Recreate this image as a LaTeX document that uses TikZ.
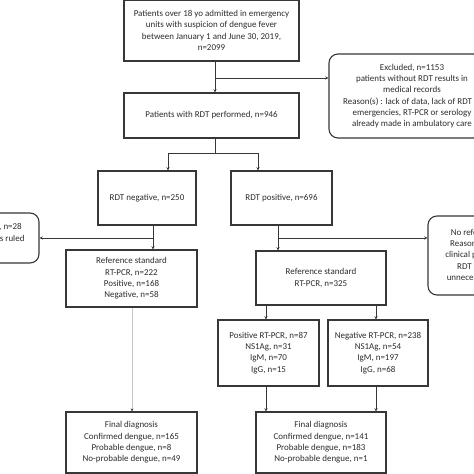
\documentclass[tikz,border=0pt]{standalone}
\usepackage{fontspec}
\setmainfont{Carlito}
\usetikzlibrary{arrows.meta}
\definecolor{ink}{RGB}{55,55,55}
\definecolor{txt}{RGB}{45,45,45}
\tikzset{
  box/.style={draw=ink, line width=1.1bp, rectangle, align=center, inner sep=0pt,
    font=\fontsize{9}{11.3}\selectfont, text=txt},
  rbox/.style={box, rounded corners=9bp},
  conn/.style={draw=ink, line width=0.9bp},
  arr/.style={conn, -{Stealth[length=3.2bp,width=3bp]}},
  garr/.style={draw=gray!45, line width=0.7bp, -{Stealth[length=3bp,width=2.6bp,color=ink]}}
}
\begin{document}
\begin{tikzpicture}[x=1bp,y=-1bp]
\useasboundingbox (0,0) rectangle (474,474);
\fill[white] (0,0) rectangle (474,474);

\node[box, minimum width=175bp, minimum height=61bp] (top) at (211.5,30.5)
  {Patients over 18 yo admitted in emergency\\units with suspicion of dengue fever\\between January 1 and June 30, 2019,\\n=2099};
\node[rbox, minimum width=166bp, minimum height=84bp] (excl) at (412,96)
  {Excluded, n=1153\\patients without RDT results in\\medical records\\Reason(s) : lack of data, lack of RDT in\\emergencies, RT-PCR or serology\\already made in ambulatory care};
\node[box, minimum width=175bp, minimum height=45bp] (rdt) at (211.5,115.5)
  {Patients with RDT performed, n=946};
\node[box, minimum width=98bp, minimum height=54bp] (neg) at (147,198) {RDT negative, n=250};
\node[box, minimum width=101bp, minimum height=54bp] (pos) at (281.5,198) {RDT positive, n=696};
\node[rbox, minimum width=114bp, minimum height=50bp] (leftex) at (-18,238)
  {Other diagnosis, n=28\\Dengue diagnosis ruled\\out};
\node[box, minimum width=131bp, minimum height=57bp] (refL) at (131.5,278.5)
  {Reference standard\\RT-PCR, n=222\\Positive, n=168\\Negative, n=58};
\node[box, minimum width=130bp, minimum height=54bp] (refR) at (321,278)
  {Reference standard\\RT-PCR, n=325};
\node[rbox, minimum width=154bp, minimum height=79bp] (noref) at (505,255.5)
  {No reference standard, n=371\\Reason(s): strongly suggestive\\clinical presentation and positive\\RDT result, making RT-PCR\\unnecessary in emergency units};
\node[box, minimum width=101bp, minimum height=66bp] (ppcr) at (268.5,353)
  {Positive RT-PCR, n=87\\NS1Ag, n=31\\IgM, n=70\\IgG, n=15};
\node[box, minimum width=100bp, minimum height=66bp] (npcr) at (378,353)
  {Negative RT-PCR, n=238\\NS1Ag, n=54\\IgM, n=197\\IgG, n=68};
\node[box, minimum width=131bp, minimum height=61bp] (finL) at (131.5,442.5)
  {Final diagnosis\\Confirmed dengue, n=165\\Probable dengue, n=8\\No-probable dengue, n=49};
\node[box, minimum width=130bp, minimum height=61bp] (finR) at (321,442.5)
  {Final diagnosis\\Confirmed dengue, n=141\\Probable dengue, n=183\\No-probable dengue, n=1};

% connectors
\coordinate (j1) at (215,78);
\coordinate (j2) at (215,153);
\coordinate (bl) at (168,153);
\coordinate (br) at (258,153);
\coordinate (nx) at (153,238);
\coordinate (px) at (278,238);
\coordinate (qa) at (266,0);
\coordinate (qb) at (376,0);
\coordinate (gl) at (132,0);

\draw[arr] (top.south -| j1) -- (rdt.north -| j1);
\draw[arr] (j1) -- (excl.west |- j1);
\draw[conn] (rdt.south -| j2) -- (j2);
\draw[conn] (bl) -- (br);
\draw[arr] (bl) -- (neg.north -| bl);
\draw[arr] (br) -- (pos.north -| br);
\draw[arr] (neg.south -| nx) -- (refL.north -| nx);
\draw[arr] (nx) -- (leftex.east |- nx);
\draw[arr] (pos.south -| px) -- (refR.north -| px);
\draw[arr] (px) -- (noref.west |- px);
\draw[arr] (refR.south -| qa) -- (ppcr.north -| qa);
\draw[arr] (refR.south -| qb) -- (npcr.north -| qb);
\draw[arr] (ppcr.south -| qa) -- (finR.north -| qa);
\draw[arr] (npcr.south -| qb) -- (finR.north -| qb);
\draw[garr] (refL.south -| gl) -- (finL.north -| gl);
\end{tikzpicture}
\end{document}
